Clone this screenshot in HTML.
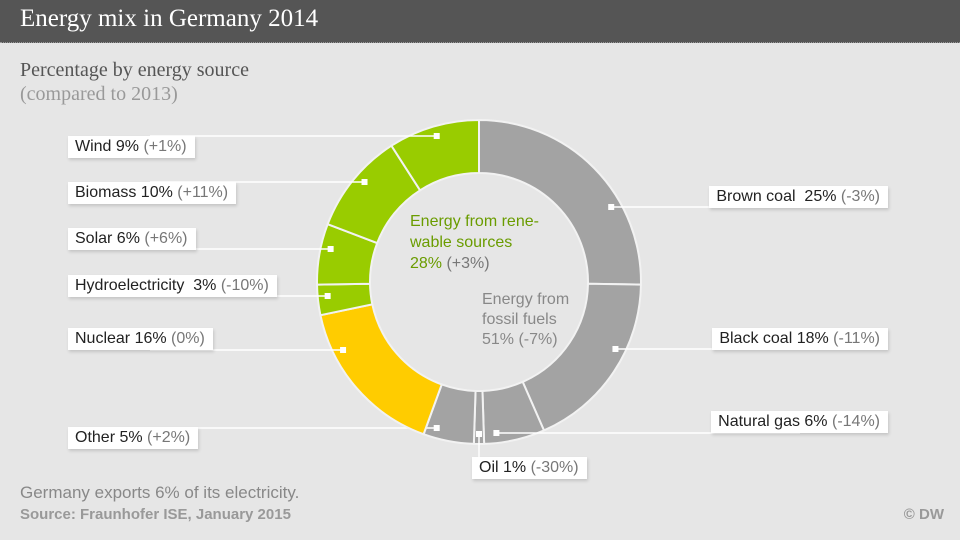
<!DOCTYPE html>
<html><head><meta charset="utf-8"><style>
body{margin:0;width:960px;height:540px;background:#e6e6e6;font-family:"Liberation Sans",sans-serif;overflow:hidden;position:relative}
.hdr{position:absolute;left:0;top:0;width:960px;height:42px;background:#555;border-bottom:1px dotted #999}
.hdr span{position:absolute;left:20px;top:5px;color:#fff;font:25px "Liberation Serif",serif}
.sub{position:absolute;left:20px;font-family:"Liberation Serif",serif;font-size:20px}
.lbl{position:absolute;height:22px;line-height:22px;background:#fff;font-size:16px;color:#222;padding:0 8px 0 7px;box-shadow:1px 2px 3px rgba(0,0,0,.15);white-space:nowrap}
.lbl i{font-style:normal;color:#777}
.foot{position:absolute;color:#888;font-size:17px}
</style></head><body>
<div class="hdr"><span>Energy mix in Germany 2014</span></div>
<div class="sub" style="top:59px;color:#555">Percentage by energy source</div>
<div class="sub" style="top:83px;color:#999">(compared to 2013)</div>
<svg id="chart" width="960" height="540" style="position:absolute;left:0;top:0"></svg>
<div id="labels"></div>
<div class="foot" style="left:20px;top:483px">Germany exports 6% of its electricity.</div>
<div class="foot" style="left:20px;top:506px;font-size:15px;font-weight:bold;color:#999">Source: Fraunhofer ISE, January 2015</div>
<div class="foot" style="right:16px;top:506px;font-size:15px;font-weight:bold;color:#999">© DW</div>
<script>
const categories=["Brown coal","Black coal","Natural gas","Oil","Other","Nuclear","Hydroelectricity","Solar","Biomass","Wind"];
const shares=[25,18,6,1,5,16,3,6,10,9];
const changes=["-3%","-11%","-14%","-30%","+2%","0%","-10%","+6%","+11%","+1%"];
const groups=["fossil","fossil","fossil","fossil","other","nuclear","renew","renew","renew","renew"];
const colors={fossil:"#a3a3a3",other:"#a3a3a3",nuclear:"#ffcc00",renew:"#99cc00"};
const boxes=[["r",186,207],["r",328,349],["r",411,433],["b",457,0],["l",427,428],["l",328,350],["l",275,296],["l",228,249],["l",182,182],["l",136,136]];
const cx=479,cy=282,R=162,r0=109,rd=152;
const NS="http://www.w3.org/2000/svg";
const svg=document.getElementById("chart");
const total=shares.reduce((a,b)=>a+b,0);
function pt(a,rad){return [cx+rad*Math.sin(a),cy-rad*Math.cos(a)];}
let acc=0;
const labels=document.getElementById("labels");
shares.forEach((v,i)=>{
  const a0=acc/total*2*Math.PI;acc+=v;const a1=acc/total*2*Math.PI;
  const [x0,y0]=pt(a0,R),[x1,y1]=pt(a1,R),[x2,y2]=pt(a1,r0),[x3,y3]=pt(a0,r0);
  const lg=(a1-a0)>Math.PI?1:0;
  const p=document.createElementNS(NS,"path");
  p.setAttribute("d",`M${x0},${y0}A${R},${R} 0 ${lg} 1 ${x1},${y1}L${x2},${y2}A${r0},${r0} 0 ${lg} 0 ${x3},${y3}Z`);
  p.setAttribute("fill",colors[groups[i]]);p.setAttribute("stroke","#f2f2f2");p.setAttribute("stroke-width","2");
  
  
  svg.appendChild(p);
  const b=boxes[i];
  const el=document.createElement("div");
  el.className="lbl";el.style.top=b[1]+"px";
  if(b[0]==="r")el.style.right="72px";else if(b[0]==="l")el.style.left="68px";else el.style.left="472px";
  el.innerHTML=categories[i]+((i===0||i===6)?"&nbsp; ":" ")+v+"% <i>("+changes[i]+")</i>";
  
  
  labels.appendChild(el);
  let dx,dy,pts;
  if(b[0]==="b"){const am=(a0+a1)/2;[dx,dy]=pt(am,rd);pts=`${dx},${dy} ${dx},${b[1]}`;}
  else{dy=b[2];const h=Math.sqrt(Math.max(0,rd*rd-(dy-cy)*(dy-cy)));dx=b[0]==="r"?cx+h:cx-h;
    pts=b[0]==="r"?`${dx},${dy} 800,${dy}`:`${dx},${dy} 150,${dy}`;}
  const ln=document.createElementNS(NS,"polyline");
  ln.setAttribute("points",pts);ln.setAttribute("stroke","#fff");ln.setAttribute("stroke-width","1.5");ln.setAttribute("fill","none");
  
  
  svg.appendChild(ln);
  const d=document.createElementNS(NS,"rect");
  d.setAttribute("x",dx-3);d.setAttribute("y",dy-3);d.setAttribute("width",6);d.setAttribute("height",6);d.setAttribute("fill","#fff");
  
  
  svg.appendChild(d);
});
function txt(x,y,s,c,name){const t=document.createElementNS(NS,"text");t.setAttribute("x",x);t.setAttribute("y",y);t.setAttribute("fill",c);t.setAttribute("font-size","16");t.setAttribute("font-family","Liberation Sans, sans-serif");t.innerHTML=s;


svg.appendChild(t);}
txt(410,226,"Energy from rene-","#6a9c00","renewable-label");
txt(410,247,"wable sources","#6a9c00","renewable-label");
txt(410,268,'28% <tspan fill="#777">(+3%)</tspan>',"#6a9c00","renewable-share");
txt(482,304,"Energy from","#888","fossil-label");
txt(482,324,"fossil fuels","#888","fossil-label");
txt(482,344,"51% (-7%)","#888","fossil-share");
</script>
</body></html>
